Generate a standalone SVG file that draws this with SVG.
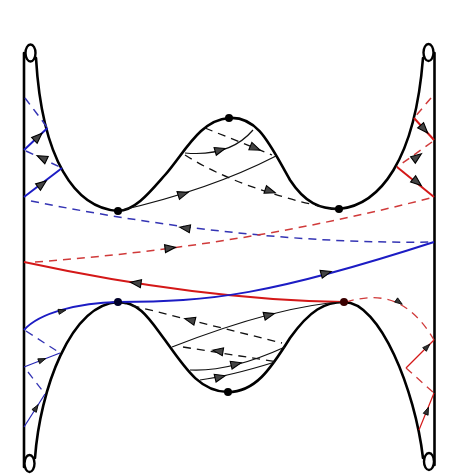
<svg xmlns="http://www.w3.org/2000/svg" xmlns:xlink="http://www.w3.org/1999/xlink" width="474" height="474" viewBox="0 0 474 474">
<style>
.bd{fill:none;stroke:#000;stroke-width:2.6;stroke-linecap:round}
.ov{fill:#fff;stroke:#000;stroke-width:2.4}
.k{fill:none;stroke:#111;stroke-width:1.2}
.kd{fill:none;stroke:#111;stroke-width:1.3;stroke-dasharray:8,6}
.b{fill:none;stroke:#1c1cc4;stroke-width:2}
.bt{fill:none;stroke:#2424b4;stroke-width:1.2}
.bd2{fill:none;stroke:#3434b4;stroke-width:1.5;stroke-dasharray:8,6}
.r{fill:none;stroke:#d41818;stroke-width:2}
.rt{fill:none;stroke:#d41818;stroke-width:1.2}
.rd{fill:none;stroke:#d03a3a;stroke-width:1.5;stroke-dasharray:8,6}
.dot{fill:#000}
</style>
<defs>
<path id="ah" d="M5.5,0 L-5,-4 L-5,4 Z" fill="#444" stroke="#000" stroke-width="1.1" stroke-linejoin="miter"/>
<path id="as" d="M4,0 L-3.5,-2.6 L-3.5,2.6 Z" fill="#333" stroke="#000" stroke-width="0.8"/>
</defs>
<rect width="474" height="474" fill="#fff"/>
<g id="boundary">
<line class="bd" x1="24" y1="53" x2="24" y2="467"/>
<line class="bd" x1="434.5" y1="53" x2="434.5" y2="465"/>
<path class="bd" d="M36,58 C42,160 75,208 118,211 C135,211 150,192 165,175 C185,152 200,120 229,118 C258,116 270,145 290,180 C305,203 320,209 339,209 C380,205 415,160 423,58"/>
<path class="bd" d="M35,458 C40,390 70,305 118,302 C140,302 150,320 165,340 C185,368 200,392 228,392 C255,392 270,370 290,338 C310,310 325,302 344,302 C380,302 415,390 423,458"/>
<ellipse class="ov" cx="30.5" cy="53" rx="5" ry="8.5"/>
<ellipse class="ov" cx="428.5" cy="52.5" rx="5" ry="8.5"/>
<ellipse class="ov" cx="29.5" cy="463.5" rx="5" ry="8.5"/>
<ellipse class="ov" cx="429" cy="461.5" rx="5" ry="8.5"/>
</g>
<g id="connectors">
<!-- top-left blue -->
<line class="bd2" x1="25" y1="98" x2="47" y2="127"/>
<line class="b" x1="24" y1="150" x2="47.5" y2="128"/>
<line class="bd2" x1="26" y1="151" x2="62" y2="168"/>
<line class="b" x1="24" y1="197" x2="62" y2="168"/>
<!-- long lines -->
<path class="bd2" d="M31,201 Q250,245 434,242"/>
<path class="rd" d="M35,262 Q245,246.5 434,197"/>
<path class="r" d="M24,262 Q200,300 344,302"/>
<path class="b" d="M24,330 C40,312 80,303 118,302 C210,302 270,295 434,242"/>
<!-- bottom-left blue -->
<line class="bd2" x1="26" y1="331" x2="60" y2="353" style="stroke-width:1.3"/>
<line class="bt" x1="24" y1="367" x2="60" y2="353"/>
<line class="bd2" x1="28" y1="372" x2="45" y2="394" style="stroke-width:1.3"/>
<line class="bt" x1="24" y1="427" x2="45" y2="394"/>
<!-- top-right red -->
<line class="rd" x1="431" y1="98" x2="414" y2="118"/>
<line class="r" x1="414" y1="118" x2="434" y2="140"/>
<line class="rd" x1="432" y1="142" x2="397" y2="167"/>
<line class="r" x1="397" y1="167" x2="434" y2="197"/>
<!-- bottom-right red -->
<path class="rd" d="M346,302 C370,295 405,290 434,340" style="stroke-width:1.3"/>
<line class="rt" x1="406" y1="368" x2="434" y2="340"/>
<line class="rd" x1="406" y1="368" x2="434" y2="393" style="stroke-width:1.3"/>
<line class="rt" x1="419" y1="430" x2="434" y2="393"/>
<!-- top middle black -->
<path class="k" d="M118,211 Q210,190 276,156"/>
<path class="k" d="M185,153 Q230,157 253,130"/>
<line class="kd" x1="205" y1="128" x2="272" y2="155"/>
<path class="kd" d="M185,155 Q240,190 337,210"/>
<!-- bottom middle black -->
<line class="kd" x1="118" y1="302" x2="282" y2="343"/>
<path class="k" d="M172,347 Q280,305 344,302"/>
<line class="kd" x1="183" y1="347" x2="278" y2="362"/>
<path class="k" d="M190,370 Q230,372 285,347"/>
<path class="k" d="M200,380 Q230,376 275,362"/>
<!-- arrowheads -->
<use xlink:href="#ah" transform="translate(38,137) rotate(-43.7)"/>
<use xlink:href="#ah" transform="translate(42,158) rotate(-154.7)"/>
<use xlink:href="#ah" transform="translate(42,184) rotate(-37.3)"/>
<use xlink:href="#ah" transform="translate(185,228) rotate(189)"/>
<use xlink:href="#ah" transform="translate(170,248) rotate(-7)"/>
<use xlink:href="#ah" transform="translate(136,283) rotate(188.5)"/>
<use xlink:href="#ah" transform="translate(326,273) rotate(-15.6)"/>
<use xlink:href="#as" transform="translate(62,311) rotate(-14)"/>
<use xlink:href="#as" transform="translate(42,360) rotate(-21)"/>
<use xlink:href="#as" transform="translate(36,408) rotate(-57.5)"/>
<use xlink:href="#ah" transform="translate(424,129) rotate(47.7)"/>
<use xlink:href="#ah" transform="translate(417,157) rotate(-36)"/>
<use xlink:href="#ah" transform="translate(417,182) rotate(39)"/>
<use xlink:href="#as" transform="translate(399,302) rotate(35)"/>
<use xlink:href="#as" transform="translate(427,347) rotate(-45)"/>
<use xlink:href="#as" transform="translate(427,411) rotate(-68)"/>
<use xlink:href="#ah" transform="translate(183,194) rotate(-17.7)"/>
<use xlink:href="#ah" transform="translate(220,150) rotate(-16)"/>
<use xlink:href="#ah" transform="translate(255,148) rotate(22)"/>
<use xlink:href="#ah" transform="translate(270,191) rotate(18)"/>
<use xlink:href="#ah" transform="translate(190,320) rotate(194)"/>
<use xlink:href="#ah" transform="translate(269,315) rotate(-14.7)"/>
<use xlink:href="#ah" transform="translate(218,351) rotate(189)"/>
<use xlink:href="#ah" transform="translate(236,364) rotate(-13.6)"/>
<use xlink:href="#ah" transform="translate(220,377) rotate(-13.5)"/>
</g>
<g id="node-d1"><circle class="dot" cx="118" cy="211" r="4"/></g>
<g id="node-d2"><circle class="dot" cx="229" cy="118" r="4"/></g>
<g id="node-d3"><circle class="dot" cx="339" cy="209" r="4"/></g>
<g id="node-d4"><circle class="dot" cx="118" cy="302" r="4" style="fill:#00002a"/></g>
<g id="node-d5"><circle class="dot" cx="228" cy="392" r="4"/></g>
<g id="node-d6"><circle class="dot" cx="344" cy="302" r="4" style="fill:#3a0000"/></g>
</svg>
